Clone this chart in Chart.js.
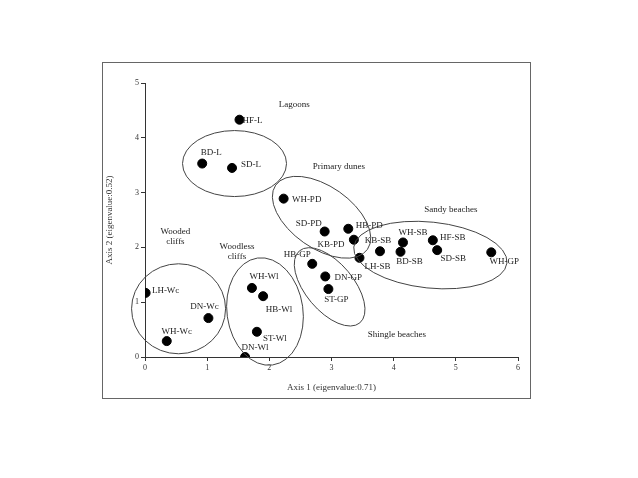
<!DOCTYPE html><html><head><script src="https://cdn.jsdelivr.net/npm/chart.js@4/dist/chart.umd.min.js"></script>
<style>body{margin:0;background:#fff}#f{position:absolute;left:102px;top:62px;width:427px;height:335px;border:1px solid #666}canvas{position:absolute;left:0;top:0}</style></head><body><div id="f"></div><canvas id="c" width="638" height="478"></canvas><script>
const names=["HF-L","BD-L","SD-L","WH-PD","SD-PD","HB-PD","KB-PD","KB-SB","WH-SB","BD-SB","HF-SB","SD-SB","WH-GP","LH-SB","HB-GP","DN-GP","ST-GP","WH-Wl","HB-Wl","ST-Wl","DN-Wl","LH-Wc","DN-Wc","WH-Wc"];
const axis1=[1.52,0.92,1.40,2.23,2.89,3.27,3.36,3.78,4.15,4.11,4.63,4.70,5.57,3.45,2.69,2.90,2.95,1.72,1.90,1.80,1.61,0.01,1.02,0.35];
const axis2=[4.33,3.53,3.45,2.89,2.29,2.34,2.14,1.93,2.09,1.92,2.13,1.95,1.91,1.81,1.70,1.47,1.24,1.26,1.11,0.46,0.00,1.17,0.71,0.29];
const labelDx=[13,9,19,23,-16,21,-23,-2,10,9,20,16,13,18,-15,23,8,12,16,18,10,20,-4,10];
const labelDy=[1,-11,-3,1,-8,-3,5,-11,-10,10,-3,9,9,9,-9,1,11,-11,13,7,-9,-2,-11,-9];
const groupNames=[["Lagoons"],["Primary dunes"],["Sandy beaches"],["Wooded","cliffs"],["Woodless","cliffs"],["Shingle beaches"]];
const groupX=[2.40,3.12,4.92,0.49,1.48,4.05];
const groupY=[4.60,3.47,2.68,2.19,1.93,0.40];
const ellCx=[1.44,2.84,4.59,0.54,1.93,2.97];
const ellCy=[3.53,2.55,1.86,0.88,0.83,1.28];
const ellRx=[52,56,77,47,38,47];
const ellRy=[33,31,33,45,54,24];
const ellRot=[0,35,6,0,-8,50];
const font='"Liberation Serif",serif';
const pts=axis1.map((x,i)=>({x,y:axis2[i]}));
const deco={id:'deco',afterDatasetsDraw(ch){const c=ch.ctx,xs=ch.scales.x,ys=ch.scales.y;c.save();c.strokeStyle='#444';c.lineWidth=1;
for(let i=0;i<ellCx.length;i++){c.beginPath();c.ellipse(xs.getPixelForValue(ellCx[i]),ys.getPixelForValue(ellCy[i]),ellRx[i],ellRy[i],ellRot[i]*Math.PI/180,0,2*Math.PI);c.stroke();}
c.fillStyle='#222';c.font='9px '+font;c.textAlign='center';c.textBaseline='middle';
names.forEach((n,i)=>c.fillText(n,xs.getPixelForValue(axis1[i])+labelDx[i],ys.getPixelForValue(axis2[i])+labelDy[i]));
groupNames.forEach((g,i)=>{const x=xs.getPixelForValue(groupX[i]),y=ys.getPixelForValue(groupY[i]);g.forEach((t,k)=>c.fillText(t,x,y+(k-(g.length-1)/2)*10));});
c.restore();}};
new Chart(document.getElementById('c'),{type:'scatter',data:{datasets:[{data:pts,backgroundColor:'#000',borderColor:'#000',pointRadius:4.5}]},
options:{responsive:false,animation:false,layout:{padding:{left:100,right:120,top:83,bottom:81}},plugins:{legend:{display:false},tooltip:{enabled:false}},
scales:{x:{min:0,max:6,afterFit(s){s.height=40},border:{color:'#333'},grid:{drawOnChartArea:false,tickLength:4,color:'#333'},ticks:{stepSize:1,color:'#333',font:{family:font,size:8},padding:2},title:{display:true,text:'Axis 1 (eigenvalue:0.71)',color:'#333',font:{family:font,size:9},padding:{top:8}}},
y:{min:0,max:5,afterFit(s){s.width=45},border:{color:'#333'},grid:{drawOnChartArea:false,tickLength:4,color:'#333'},ticks:{stepSize:1,color:'#333',font:{family:font,size:8},padding:2},title:{display:true,text:'Axis 2 (eigenvalue:0.52)',color:'#333',font:{family:font,size:9},padding:{bottom:6}}}}},plugins:[deco]});
</script></body></html>
